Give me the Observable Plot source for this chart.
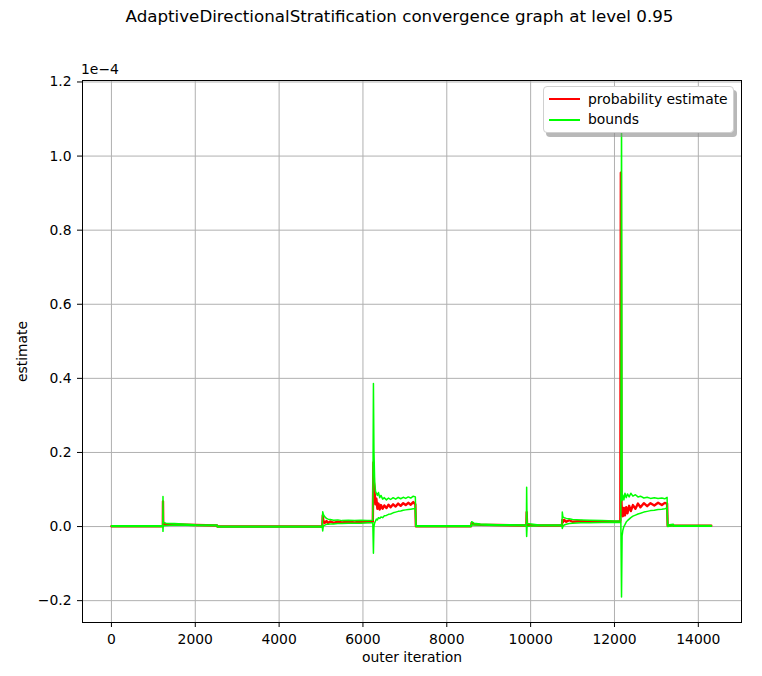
<!DOCTYPE html>
<html>
<head>
<meta charset="utf-8">
<script src="https://cdn.jsdelivr.net/npm/d3@7"></script>
<script src="https://cdn.jsdelivr.net/npm/@observablehq/plot@0.6"></script>
<style>
  html, body { margin: 0; padding: 0; background: #fff; }
  body { width: 762px; height: 676px; position: relative; overflow: hidden; font-family: "DejaVu Sans", sans-serif; }
  #title { position: absolute; left: 0; top: 0; width: 799px; height: 32px; line-height: 32px; text-align: center; font-size: 16.7px; color: #000; }
  #chart { position: absolute; left: 0; top: 32px; }
  #offset { position: absolute; left: 81px; top: 61px; font-size: 13.9px; color: #000; }
  #legend-shadow { position: absolute; left: 546px; top: 90px; width: 191px; height: 47px; background: #888; opacity: 0.6; border-radius: 4px; }
  #legend { position: absolute; left: 543px; top: 86px; width: 189px; height: 45px; background: #fff; border: 1px solid #d0d0d0; border-radius: 4px; font-size: 13.9px; }
  .lg-row { position: absolute; left: 0; height: 20px; line-height: 20px; }
  .lg-line { position: absolute; left: 5px; width: 31px; }
  .lg-text { position: absolute; left: 44px; white-space: nowrap; }
</style>
</head>
<body>
<div id="title">AdaptiveDirectionalStratification convergence graph at level 0.95</div>
<div id="chart"></div>
<div id="offset">1e−4</div>
<div id="legend-shadow"></div>
<div id="legend">
  <div class="lg-row" style="top:2px"><div class="lg-line" style="top:9px;height:2px;background:#ff0000"></div><div class="lg-text">probability estimate</div></div>
  <div class="lg-row" style="top:22px"><div class="lg-line" style="top:10px;height:1.5px;background:#00ff00"></div><div class="lg-text">bounds</div></div>
</div>
<script>
// values in units of 1e-4
const iteration = [0,600,1226,1230,1236,1300,1500,2000,2520,2526,4000,5030,5040,5055,5090,5130,5170,5220,5300,5400,5500,5650,5800,5950,6100,6235,6250,6262,6280,6300,6320,6345,6370,6400,6430,6470,6510,6560,6610,6660,6720,6780,6840,6900,6960,7020,7080,7140,7200,7250,7262,8000,8580,8592,8650,8800,9200,9898,9905,9915,10200,10748,10755,10770,10800,10850,10920,11000,11200,11400,11700,12000,12140,12152,12168,12182,12200,12225,12250,12280,12310,12350,12390,12440,12500,12560,12620,12700,12780,12860,12950,13040,13130,13200,13255,13268,13400,13420,14000,14310];
const estimate = [0.001,0.001,0.001,0.068,0.007,0.006,0.006,0.004,0.003,0.000,0.000,0.000,0.030,0.016,0.010,0.015,0.009,0.014,0.010,0.013,0.011,0.013,0.011,0.013,0.012,0.013,0.173,0.120,0.090,0.060,0.075,0.048,0.062,0.046,0.058,0.048,0.057,0.050,0.059,0.052,0.060,0.054,0.062,0.056,0.063,0.058,0.064,0.059,0.066,0.060,0.001,0.001,0.001,0.010,0.006,0.005,0.004,0.003,0.039,0.004,0.003,0.003,0.018,0.012,0.018,0.013,0.017,0.013,0.015,0.013,0.014,0.013,0.013,0.955,0.060,0.040,0.028,0.050,0.030,0.052,0.036,0.056,0.042,0.058,0.048,0.062,0.052,0.063,0.055,0.063,0.057,0.064,0.058,0.064,0.062,0.002,0.004,0.002,0.002,0.002];
const lowerBound = [0.000,0.000,0.000,-0.013,0.002,0.003,0.004,0.003,0.002,-0.001,-0.001,-0.001,-0.012,0.002,0.004,0.006,0.006,0.007,0.007,0.008,0.008,0.009,0.009,0.009,0.010,0.010,-0.072,0.000,0.010,0.015,0.020,0.018,0.024,0.022,0.026,0.024,0.029,0.030,0.033,0.034,0.037,0.039,0.041,0.042,0.044,0.045,0.046,0.047,0.048,0.048,0.000,0.000,0.000,0.005,0.004,0.004,0.003,0.002,-0.027,0.001,0.002,0.002,-0.005,0.000,0.004,0.006,0.008,0.009,0.010,0.010,0.011,0.011,0.011,0.011,-0.190,-0.025,-0.010,0.000,0.005,0.012,0.016,0.020,0.024,0.028,0.031,0.034,0.036,0.039,0.041,0.043,0.044,0.046,0.047,0.048,0.050,0.000,0.002,0.001,0.001,0.001];
const upperBound = [0.002,0.002,0.002,0.081,0.012,0.009,0.008,0.005,0.004,0.001,0.001,0.001,0.040,0.033,0.026,0.022,0.020,0.019,0.017,0.018,0.016,0.017,0.016,0.017,0.016,0.017,0.386,0.205,0.120,0.095,0.090,0.084,0.092,0.078,0.084,0.074,0.078,0.072,0.077,0.073,0.078,0.074,0.079,0.075,0.079,0.076,0.080,0.077,0.082,0.080,0.002,0.002,0.002,0.013,0.009,0.007,0.005,0.004,0.106,0.008,0.004,0.004,0.039,0.026,0.024,0.022,0.021,0.019,0.018,0.017,0.016,0.015,0.015,0.015,1.135,0.070,0.085,0.072,0.090,0.078,0.088,0.080,0.090,0.082,0.086,0.080,0.082,0.077,0.079,0.076,0.078,0.076,0.077,0.075,0.079,0.004,0.006,0.003,0.003,0.003];
const xTicks = [0,2000,4000,6000,8000,10000,12000,14000];
const yTicks = [-0.2,0.0,0.2,0.4,0.6,0.8,1.0,1.2];

const rows = iteration.map((it, i) => ({it, est: estimate[i], lo: lowerBound[i], hi: upperBound[i]}));

const chart = Plot.plot({
  width: 762,
  height: 644,
  marginLeft: 82,
  marginRight: 21,
  marginTop: 48,
  marginBottom: 54,
  style: {fontFamily: "DejaVu Sans, sans-serif", fontSize: "13.9px", color: "#000", background: "#fff"},
  x: {domain: [-690, 15030]},
  y: {domain: [-0.259, 1.204]},
  marks: [
    Plot.gridX(xTicks, {stroke: "#b0b0b0", strokeOpacity: 1, strokeWidth: 1}),
    Plot.gridY(yTicks, {stroke: "#b0b0b0", strokeOpacity: 1, strokeWidth: 1}),
    Plot.line(rows, {x: "it", y: "est", stroke: "#ff0000", strokeWidth: 2.4, clip: true}),
    Plot.line(rows, {x: "it", y: "lo", stroke: "#00ff00", strokeWidth: 1.5, clip: true}),
    Plot.line(rows, {x: "it", y: "hi", stroke: "#00ff00", strokeWidth: 1.5, clip: true}),
    Plot.frame({stroke: "#000", strokeWidth: 1}),
    Plot.axisX({ticks: xTicks, tickFormat: d3.format("d"), tickSize: 5, tickPadding: 7, stroke: "#000", label: "outer iteration", labelAnchor: "center", labelArrow: "none", labelOffset: 39}),
    Plot.axisY({ticks: yTicks, tickFormat: d3.format(".1f"), tickSize: 5, tickPadding: 6, stroke: "#000", label: "estimate", labelAnchor: "center", labelArrow: "none", labelOffset: 65})
  ]
});
document.getElementById("chart").appendChild(chart);
</script>
</body>
</html>
